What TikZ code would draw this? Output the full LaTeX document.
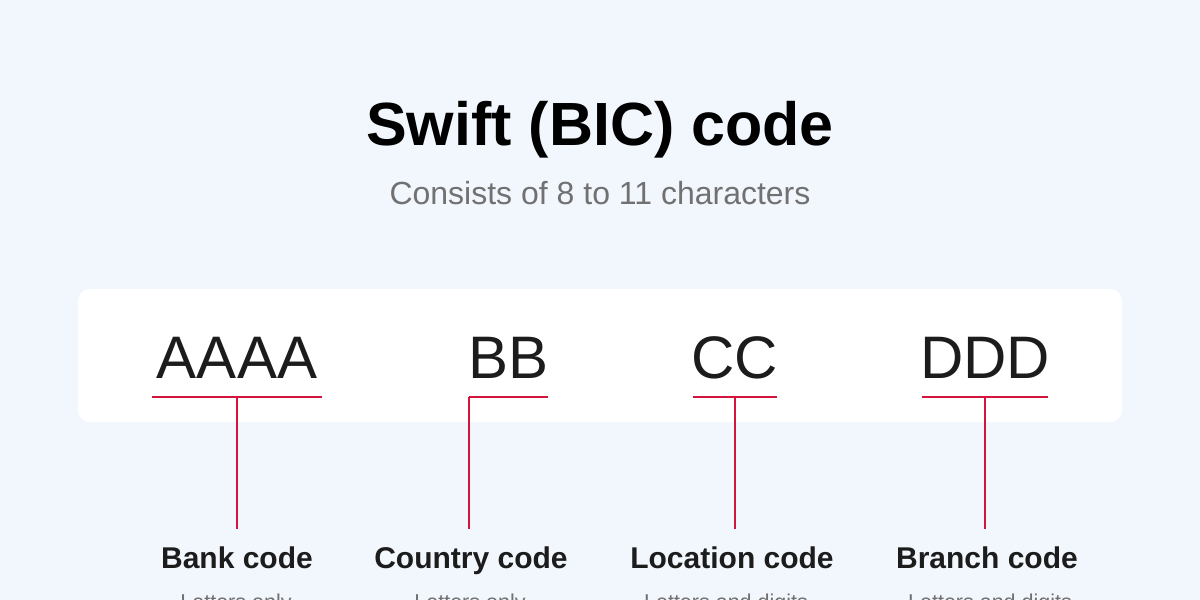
\documentclass[tikz,border=0pt]{standalone}
\usepackage{fontspec}
\setmainfont{Liberation Sans}
\definecolor{pagebg}{HTML}{F2F7FE}
\definecolor{codered}{HTML}{D3143C}
\definecolor{subgray}{HTML}{717171}
\definecolor{inkdark}{HTML}{1C1C1C}
\tikzset{
	codetext/.style={font=\fontsize{60}{68}\selectfont, text=inkdark, inner sep=0pt, anchor=base},
	fieldname/.style={font=\bfseries\fontsize{30}{36}\selectfont, text=inkdark, inner xsep=0pt, inner ysep=17pt, anchor=base},
	fieldnote/.style={font=\fontsize{21.5}{26}\selectfont, text=subgray, inner sep=0pt, anchor=base},
	redline/.style={draw=codered, line width=2pt},
}
\begin{document}
\begin{tikzpicture}[x=1pt, y=-1pt]
		\useasboundingbox (0,0) rectangle (1200,600);
		\clip (0,0) rectangle (1200,600);
		\fill [pagebg] (0,0) rectangle (1200,600);
		
		\node [anchor=base, inner sep=0pt, text=black, font=\bfseries\fontsize{61}{70}\selectfont] (title) at (600,145) {Swift (BIC) code};
		\node [anchor=base, inner sep=0pt, text=subgray, font=\fontsize{32}{38}\selectfont] (subtitle) at (600,204) {Consists of 8 to 11 characters};
		
		\fill [white, rounded corners=12pt] (78,289) rectangle (1122,422);
		
		\node [codetext] (aaaa) at (237,378) {AAAA};
		\node [codetext] (bb) at (508.5,378) {BB};
		\node [codetext] (cc) at (735,378) {CC};
		\node [codetext] (ddd) at (985,378) {DDD};
		
		% underlines sit 19pt under the baseline
		\draw [redline] ([shift={(-85,19)}]aaaa.base) -- ([shift={(85,19)}]aaaa.base);
		\draw [redline] ([shift={(-39.5,19)}]bb.base) -- ([shift={(39.5,19)}]bb.base);
		\draw [redline] ([shift={(-42,19)}]cc.base) -- ([shift={(42,19)}]cc.base);
		\draw [redline] ([shift={(-63,19)}]ddd.base) -- ([shift={(63,19)}]ddd.base);
		
		\coordinate (tickA) at ([shift={(0,19)}]aaaa.base);
		\coordinate (tickB) at ([shift={(-39.5,19)}]bb.base);
		\coordinate (tickC) at ([shift={(0,19)}]cc.base);
		\coordinate (tickD) at ([shift={(0,19)}]ddd.base);
		
		\node [fieldname] (bank) at (237,568) {Bank code};
		\node [fieldname] (country) at (471,568) {Country code};
		\node [fieldname] (location) at (732,568) {Location code};
		\node [fieldname] (branch) at (987,568) {Branch code};
		
		\draw [redline] (tickA) -- (tickA |- bank.north);
		\draw [redline] (tickB) -- (tickB |- country.north);
		\draw [redline] (tickC) -- (tickC |- location.north);
		\draw [redline] (tickD) -- (tickD |- branch.north);
		
		\node [fieldnote] (banknote) at (236,609) {Letters only};
		\node [fieldnote] (countrynote) at (470,609) {Letters only};
		\node [fieldnote] (locationnote) at (726,609) {Letters and digits};
		\node [fieldnote] (branchnote) at (990,609) {Letters and digits};
	\end{tikzpicture}
\end{document}
